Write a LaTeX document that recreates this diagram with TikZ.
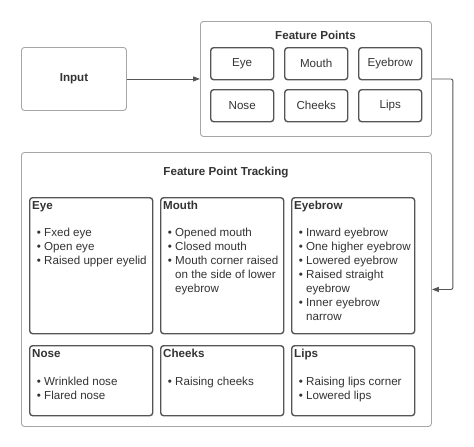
\documentclass[tikz,border=0pt]{standalone}
\usepackage{fontspec}
\setmainfont{Liberation Sans}
\usetikzlibrary{arrows.meta}
\definecolor{lightline}{HTML}{A6A6A6}
\definecolor{darkline}{HTML}{555555}
\definecolor{txtc}{HTML}{333333}
\newcommand\myfs{\fontsize{11.6}{14}\selectfont}
\newcommand\bu{\llap{• }}
\begin{document}
\begin{tikzpicture}[x=1pt,y=-1pt,
  outerbox/.style={draw=lightline, line width=0.9pt, rounded corners=3pt, inner sep=0, anchor=north west},
  innerbox/.style={draw=darkline, line width=1.4pt, rounded corners=3pt, inner sep=0, anchor=north west},
  smallbox/.style={innerbox, minimum width=63pt, minimum height=32pt, font=\myfs, text=txtc},
  txt/.style={anchor=base west, inner sep=0, font=\myfs, text=txtc},
  head/.style={txt, font=\myfs\bfseries},
  title/.style={anchor=base, inner sep=0, font=\myfs\bfseries, text=txtc},
  conn/.style={draw=darkline, line width=0.9pt, -{Triangle[length=7pt,width=5pt]}}
]
\useasboundingbox (0,0) rectangle (474,447);
\fill[white] (0,0) rectangle (474,447);

% Input
\node[outerbox, minimum width=105pt, minimum height=63pt, font=\myfs\bfseries, text=txtc] (input) at (21,47) {};
\node[font=\myfs\bfseries, text=txtc] (inputlabel) at (input.center) {Input};

% Feature points
\node[outerbox, minimum width=231pt, minimum height=115pt] (fp) at (200,21) {};
\node[title] (fptitle) at (315.5,39) {Feature Points};
\node[smallbox] (s1) at (210,47) {};
\node[smallbox] (s2) at (284,47) {};
\node[smallbox] (s3) at (358,47) {};
\node[smallbox] (s4) at (210,89) {};
\node[smallbox] (s5) at (284,89) {};
\node[smallbox] (s6) at (358,89) {};
\node[txt, anchor=center] (l1) at (s1.center) {Eye};
\node[txt, anchor=center] (l2) at (s2.center) {Mouth};
\node[txt, anchor=center] (l3) at (s3.center) {Eyebrow};
\node[txt, anchor=center] (l4) at (s4.center) {Nose};
\node[txt, anchor=center] (l5) at (s5.center) {Cheeks};
\node[txt, anchor=center] (l6) at (s6.center) {Lips};

% Feature point tracking
\node[outerbox, minimum width=410pt, minimum height=274pt] (fpt) at (21,152) {};
\node[title] (fpttitle) at (226,175) {Feature Point Tracking};

\node[innerbox, minimum width=123pt, minimum height=136pt] (beye) at (29,197) {};
\node[innerbox, minimum width=123pt, minimum height=136pt] (bmouth) at (160,197) {};
\node[innerbox, minimum width=123pt, minimum height=136pt] (bbrow) at (291,197) {};
\node[innerbox, minimum width=123pt, minimum height=70pt] (bnose) at (29,345) {};
\node[innerbox, minimum width=123pt, minimum height=70pt] (bcheeks) at (160,345) {};
\node[innerbox, minimum width=123pt, minimum height=70pt] (blips) at (291,345) {};

\node[head] (heye) at (32,209) {Eye};
\node[head] (hmouth) at (163,209) {Mouth};
\node[head] (hbrow) at (294,209) {Eyebrow};
\node[head] (hnose) at (32,357.5) {Nose};
\node[head] (hcheeks) at (163,357.5) {Cheeks};
\node[head] (hlips) at (294,357.5) {Lips};

\foreach \t [count=\i from 0] in {{\bu Fxed eye},{\bu Open eye},{\bu Raised upper eyelid}}
  \node[txt] (eye\i) at (44,236+14.1*\i) {\t};
\foreach \t [count=\i from 0] in {{\bu Opened mouth},{\bu Closed mouth},{\bu Mouth corner raised},{on the side of lower},{eyebrow}}
  \node[txt] (mouth\i) at (175,236+14.1*\i) {\t};
\foreach \t [count=\i from 0] in {{\bu Inward eyebrow},{\bu One higher eyebrow},{\bu Lowered eyebrow},{\bu Raised straight},{eyebrow},{\bu Inner eyebrow},{narrow}}
  \node[txt] (brow\i) at (306,236+14.1*\i) {\t};
\foreach \t [count=\i from 0] in {{\bu Wrinkled nose},{\bu Flared nose}}
  \node[txt] (nose\i) at (44,385.8+14.1*\i) {\t};
\node[txt] (cheeks0) at (175,385.8) {\bu Raising cheeks};
\foreach \t [count=\i from 0] in {{\bu Raising lips corner},{\bu Lowered lips}}
  \node[txt] (lips\i) at (306,385.8+14.1*\i) {\t};

% connectors
\draw[conn] (input.east) -- (fp.west);
\draw[conn, rounded corners=2pt] (fp.east) -- ++(21,0) |- (fpt.east);
\end{tikzpicture}
\end{document}
